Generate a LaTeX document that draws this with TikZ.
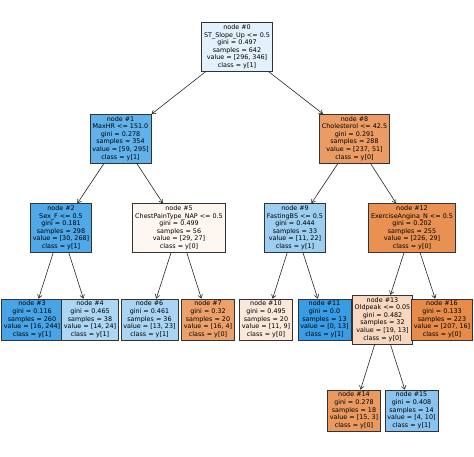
\documentclass[tikz,border=0pt]{standalone}
\usepackage{fontspec}
\setmainfont{DejaVu Sans}
\usetikzlibrary{arrows.meta}
\definecolor{n0}{RGB}{226,241,251}
\definecolor{n1}{RGB}{97,177,234}
\definecolor{n2}{RGB}{79,168,232}
\definecolor{n3}{RGB}{70,164,231}
\definecolor{n4}{RGB}{173,214,244}
\definecolor{n5}{RGB}{253,246,241}
\definecolor{n6}{RGB}{169,212,244}
\definecolor{n7}{RGB}{236,161,107}
\definecolor{n8}{RGB}{235,156,100}
\definecolor{n9}{RGB}{156,206,242}
\definecolor{n10}{RGB}{250,232,219}
\definecolor{n11}{RGB}{57,157,229}
\definecolor{n12}{RGB}{232,145,82}
\definecolor{n13}{RGB}{247,215,192}
\definecolor{n14}{RGB}{234,154,97}
\definecolor{n15}{RGB}{136,196,239}
\definecolor{n16}{RGB}{231,139,72}
\newcommand{\tl}[1]{\begin{tabular}{@{}c@{}}#1\end{tabular}}
\begin{document}
\begin{tikzpicture}[x=1pt,y=-1pt,
  tn/.style={draw=black!80, line width=0.6pt,
    font=\fontsize{6.4}{7.6}\selectfont, inner xsep=2.5pt, inner ysep=1.5pt},
  edge/.style={draw=black!85, line width=0.6pt, -{Straight Barb[length=3.5pt,width=4.5pt]}}]
\useasboundingbox (0,0) rectangle (474,456);
% row 0
\node[tn, fill=n0] (a0) at (237,47) {\tl{node \#0\\ST\_Slope\_Up <= 0.5\\gini = 0.497\\samples = 642\\value = [296, 346]\\class = y[1]}};
% row 1
\node[tn, fill=n1] (a1) at (120.5,138.5) {\tl{node \#1\\MaxHR <= 151.0\\gini = 0.278\\samples = 354\\value = [59, 295]\\class = y[1]}};
\node[tn, fill=n8] (a8) at (354.5,138.5) {\tl{node \#8\\Cholesterol <= 42.5\\gini = 0.291\\samples = 288\\value = [237, 51]\\class = y[0]}};
% row 2
\node[tn, fill=n2] (a2) at (61,228) {\tl{node \#2\\Sex\_F <= 0.5\\gini = 0.181\\samples = 298\\value = [30, 268]\\class = y[1]}};
\node[tn, fill=n5] (a5) at (179,228) {\tl{node \#5\\ChestPainType\_NAP <= 0.5\\gini = 0.499\\samples = 56\\value = [29, 27]\\class = y[0]}};
\node[tn, fill=n9] (a9) at (295,228) {\tl{node \#9\\FastingBS <= 0.5\\gini = 0.444\\samples = 33\\value = [11, 22]\\class = y[1]}};
\node[tn, fill=n12] (a12) at (412,228) {\tl{node \#12\\ExerciseAngina\_N <= 0.5\\gini = 0.202\\samples = 255\\value = [226, 29]\\class = y[0]}};
% row 3
\node[tn, fill=n3] (a3) at (32,319.5) {\tl{node \#3\\gini = 0.116\\samples = 260\\value = [16, 244]\\class = y[1]}};
\node[tn, fill=n4] (a4) at (90,319.5) {\tl{node \#4\\gini = 0.465\\samples = 38\\value = [14, 24]\\class = y[1]}};
\node[tn, fill=n6] (a6) at (149.5,319.5) {\tl{node \#6\\gini = 0.461\\samples = 36\\value = [13, 23]\\class = y[1]}};
\node[tn, fill=n7] (a7) at (208,319.5) {\tl{node \#7\\gini = 0.32\\samples = 20\\value = [16, 4]\\class = y[0]}};
\node[tn, fill=n10] (a10) at (266,319.5) {\tl{node \#10\\gini = 0.495\\samples = 20\\value = [11, 9]\\class = y[0]}};
\node[tn, fill=n11] (a11) at (324.5,319.5) {\tl{node \#11\\gini = 0.0\\samples = 13\\value = [0, 13]\\class = y[1]}};
\node[tn, fill=n13] (a13) at (382.5,319.5) {\tl{node \#13\\Oldpeak <= 0.05\\gini = 0.482\\samples = 32\\value = [19, 13]\\class = y[0]}};
\node[tn, fill=n16] (a16) at (442,319.5) {\tl{node \#16\\gini = 0.133\\samples = 223\\value = [207, 16]\\class = y[0]}};
% row 4
\node[tn, fill=n14] (a14) at (354,410.5) {\tl{node \#14\\gini = 0.278\\samples = 18\\value = [15, 3]\\class = y[0]}};
\node[tn, fill=n15] (a15) at (411.5,410.5) {\tl{node \#15\\gini = 0.408\\samples = 14\\value = [4, 10]\\class = y[1]}};
% edges
\draw[edge] (a0) -- (a1);
\draw[edge] (a0) -- (a8);
\draw[edge] (a1) -- (a2);
\draw[edge] (a1) -- (a5);
\draw[edge] (a8) -- (a9);
\draw[edge] (a8) -- (a12);
\draw[edge] (a2) -- (a3);
\draw[edge] (a2) -- (a4);
\draw[edge] (a5) -- (a6);
\draw[edge] (a5) -- (a7);
\draw[edge] (a9) -- (a10);
\draw[edge] (a9) -- (a11);
\draw[edge] (a12) -- (a13);
\draw[edge] (a12) -- (a16);
\draw[edge] (a13) -- (a14);
\draw[edge] (a13) -- (a15);
\end{tikzpicture}
\end{document}
